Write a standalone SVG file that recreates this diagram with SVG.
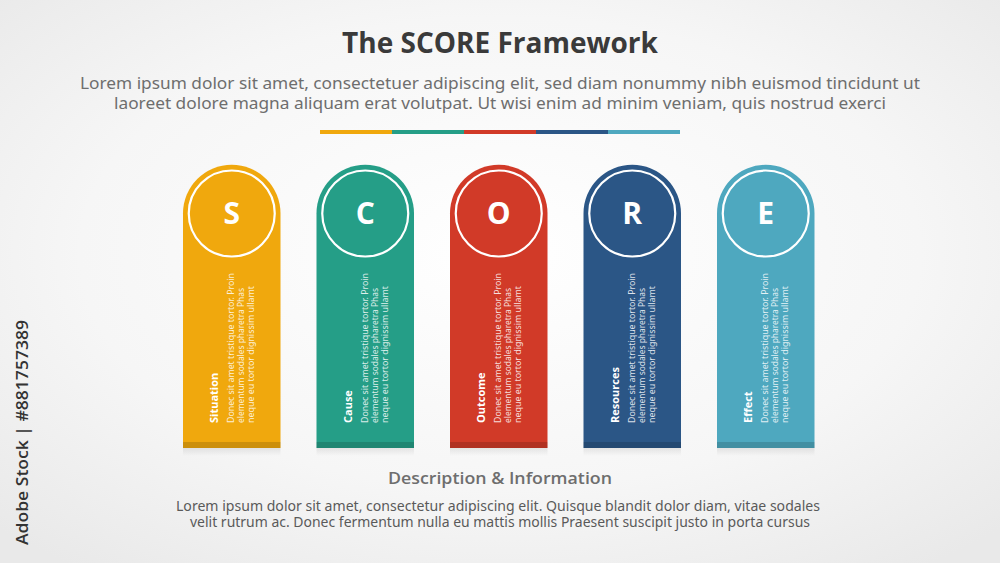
<svg xmlns="http://www.w3.org/2000/svg" width="1000" height="563" viewBox="0 0 1000 563">
<defs>
<radialGradient id="bg" cx="50%" cy="45%" r="70%">
<stop offset="0" stop-color="#ffffff"/>
<stop offset="0.6" stop-color="#f6f6f6"/>
<stop offset="1" stop-color="#e9e9e9"/>
</radialGradient>
<linearGradient id="shadow" x1="0" y1="0" x2="0" y2="1">
<stop offset="0" stop-color="#000" stop-opacity="0.08"/>
<stop offset="1" stop-color="#000" stop-opacity="0"/>
</linearGradient>
</defs>
<style>
.title{font-family:"Open Sans","Liberation Sans",sans-serif;font-weight:700;font-size:28px;fill:#3a3a3a}
.sub{font-family:"Noto Sans","Liberation Sans",sans-serif;font-size:15.5px;fill:#6e6e6e}
.head{font-family:"Open Sans","Liberation Sans",sans-serif;font-weight:600;font-size:17px;fill:#6e6e6e}
.foot{font-family:"Noto Sans","Liberation Sans",sans-serif;font-size:13.5px;fill:#5a5a5a}
.letter{font-family:"Open Sans","Liberation Sans",sans-serif;font-weight:700;font-size:30px;fill:#fff}
.ring{fill:none;stroke:#fff;stroke-width:2.2}
.ctitle{font-family:"Open Sans","Liberation Sans",sans-serif;font-weight:700;font-size:11px;fill:#fff}
.cbody{font-family:"Noto Sans","Liberation Sans",sans-serif;font-size:8.6px;fill:#fff;fill-opacity:0.85}
.strip{fill:#000;fill-opacity:0.15}
.wm{font-family:"Open Sans","Liberation Sans",sans-serif;font-weight:600;font-size:17px;fill:#333}
</style>
<rect width="1000" height="563" fill="url(#bg)"/>

<g id="header">
<text class="title" x="500" y="53" text-anchor="middle">The SCORE Framework</text>
<text class="sub" x="500" y="89" text-anchor="middle" textLength="840" lengthAdjust="spacingAndGlyphs">Lorem ipsum dolor sit amet, consectetuer adipiscing elit, sed diam nonummy nibh euismod tincidunt ut</text>
<text class="sub" x="500" y="109" text-anchor="middle" textLength="772" lengthAdjust="spacingAndGlyphs">laoreet dolore magna aliquam erat volutpat. Ut wisi enim ad minim veniam, quis nostrud exerci</text>
</g>

<g id="colorbar">
<rect x="320" y="130" width="72" height="4" fill="#F0A80D"/>
<rect x="392" y="130" width="72" height="4" fill="#259E87"/>
<rect x="464" y="130" width="72" height="4" fill="#D13A28"/>
<rect x="536" y="130" width="72" height="4" fill="#2B5686"/>
<rect x="608" y="130" width="72" height="4" fill="#4EA8BF"/>
</g>

<g id="node-s">
<rect x="183" y="448" width="97.5" height="8" fill="url(#shadow)"/>
<path d="M183,448 V213.5 A48.75,48.75 0 0 1 280.5,213.5 V448 Z" fill="#F0A80D"/>
<rect class="strip" x="183" y="442" width="97.5" height="6"/>
<circle class="ring" cx="231.75" cy="213.5" r="43"/>
<text class="letter" x="231.75" y="224" text-anchor="middle">S</text>
<g transform="translate(183,423) rotate(-90)">
<text class="ctitle" x="0" y="35">Situation</text>
<text class="cbody" x="0" y="51" textLength="150" lengthAdjust="spacingAndGlyphs">Donec sit amet tristique tortor. Proin</text>
<text class="cbody" x="0" y="61" textLength="135" lengthAdjust="spacingAndGlyphs">elementum sodales pharetra Phas</text>
<text class="cbody" x="0" y="71" textLength="137" lengthAdjust="spacingAndGlyphs">neque eu tortor dignissim ullamt</text>
</g>
</g>

<g id="node-c">
<rect x="316.5" y="448" width="97.5" height="8" fill="url(#shadow)"/>
<path d="M316.5,448 V213.5 A48.75,48.75 0 0 1 414,213.5 V448 Z" fill="#259E87"/>
<rect class="strip" x="316.5" y="442" width="97.5" height="6"/>
<circle class="ring" cx="365.25" cy="213.5" r="43"/>
<text class="letter" x="365.25" y="224" text-anchor="middle">C</text>
<g transform="translate(316.5,423) rotate(-90)">
<text class="ctitle" x="0" y="35">Cause</text>
<text class="cbody" x="0" y="51" textLength="150" lengthAdjust="spacingAndGlyphs">Donec sit amet tristique tortor. Proin</text>
<text class="cbody" x="0" y="61" textLength="135" lengthAdjust="spacingAndGlyphs">elementum sodales pharetra Phas</text>
<text class="cbody" x="0" y="71" textLength="137" lengthAdjust="spacingAndGlyphs">neque eu tortor dignissim ullamt</text>
</g>
</g>

<g id="node-o">
<rect x="450" y="448" width="97.5" height="8" fill="url(#shadow)"/>
<path d="M450,448 V213.5 A48.75,48.75 0 0 1 547.5,213.5 V448 Z" fill="#D13A28"/>
<rect class="strip" x="450" y="442" width="97.5" height="6"/>
<circle class="ring" cx="498.75" cy="213.5" r="43"/>
<text class="letter" x="498.75" y="224" text-anchor="middle">O</text>
<g transform="translate(450,423) rotate(-90)">
<text class="ctitle" x="0" y="35">Outcome</text>
<text class="cbody" x="0" y="51" textLength="150" lengthAdjust="spacingAndGlyphs">Donec sit amet tristique tortor. Proin</text>
<text class="cbody" x="0" y="61" textLength="135" lengthAdjust="spacingAndGlyphs">elementum sodales pharetra Phas</text>
<text class="cbody" x="0" y="71" textLength="137" lengthAdjust="spacingAndGlyphs">neque eu tortor dignissim ullamt</text>
</g>
</g>

<g id="node-r">
<rect x="583.5" y="448" width="97.5" height="8" fill="url(#shadow)"/>
<path d="M583.5,448 V213.5 A48.75,48.75 0 0 1 681,213.5 V448 Z" fill="#2B5686"/>
<rect class="strip" x="583.5" y="442" width="97.5" height="6"/>
<circle class="ring" cx="632.25" cy="213.5" r="43"/>
<text class="letter" x="632.25" y="224" text-anchor="middle">R</text>
<g transform="translate(583.5,423) rotate(-90)">
<text class="ctitle" x="0" y="35">Resources</text>
<text class="cbody" x="0" y="51" textLength="150" lengthAdjust="spacingAndGlyphs">Donec sit amet tristique tortor. Proin</text>
<text class="cbody" x="0" y="61" textLength="135" lengthAdjust="spacingAndGlyphs">elementum sodales pharetra Phas</text>
<text class="cbody" x="0" y="71" textLength="137" lengthAdjust="spacingAndGlyphs">neque eu tortor dignissim ullamt</text>
</g>
</g>

<g id="node-e">
<rect x="717" y="448" width="97.5" height="8" fill="url(#shadow)"/>
<path d="M717,448 V213.5 A48.75,48.75 0 0 1 814.5,213.5 V448 Z" fill="#4EA8BF"/>
<rect class="strip" x="717" y="442" width="97.5" height="6"/>
<circle class="ring" cx="765.75" cy="213.5" r="43"/>
<text class="letter" x="765.75" y="224" text-anchor="middle">E</text>
<g transform="translate(717,423) rotate(-90)">
<text class="ctitle" x="0" y="35">Effect</text>
<text class="cbody" x="0" y="51" textLength="150" lengthAdjust="spacingAndGlyphs">Donec sit amet tristique tortor. Proin</text>
<text class="cbody" x="0" y="61" textLength="135" lengthAdjust="spacingAndGlyphs">elementum sodales pharetra Phas</text>
<text class="cbody" x="0" y="71" textLength="137" lengthAdjust="spacingAndGlyphs">neque eu tortor dignissim ullamt</text>
</g>
</g>

<g id="connectors"></g>

<g id="footer">
<text class="head" x="500" y="484" text-anchor="middle" textLength="224" lengthAdjust="spacingAndGlyphs">Description &amp; Information</text>
<text class="foot" x="498" y="511" text-anchor="middle" textLength="644" lengthAdjust="spacingAndGlyphs">Lorem ipsum dolor sit amet, consectetur adipiscing elit. Quisque blandit dolor diam, vitae sodales</text>
<text class="foot" x="500" y="527" text-anchor="middle" textLength="620" lengthAdjust="spacingAndGlyphs">velit rutrum ac. Donec fermentum nulla eu mattis mollis Praesent suscipit justo in porta cursus</text>
</g>

<g id="watermark">
<text class="wm" transform="translate(28,545) rotate(-90)" x="0" y="0" textLength="225" lengthAdjust="spacingAndGlyphs">Adobe Stock | #881757389</text>
</g>
</svg>
